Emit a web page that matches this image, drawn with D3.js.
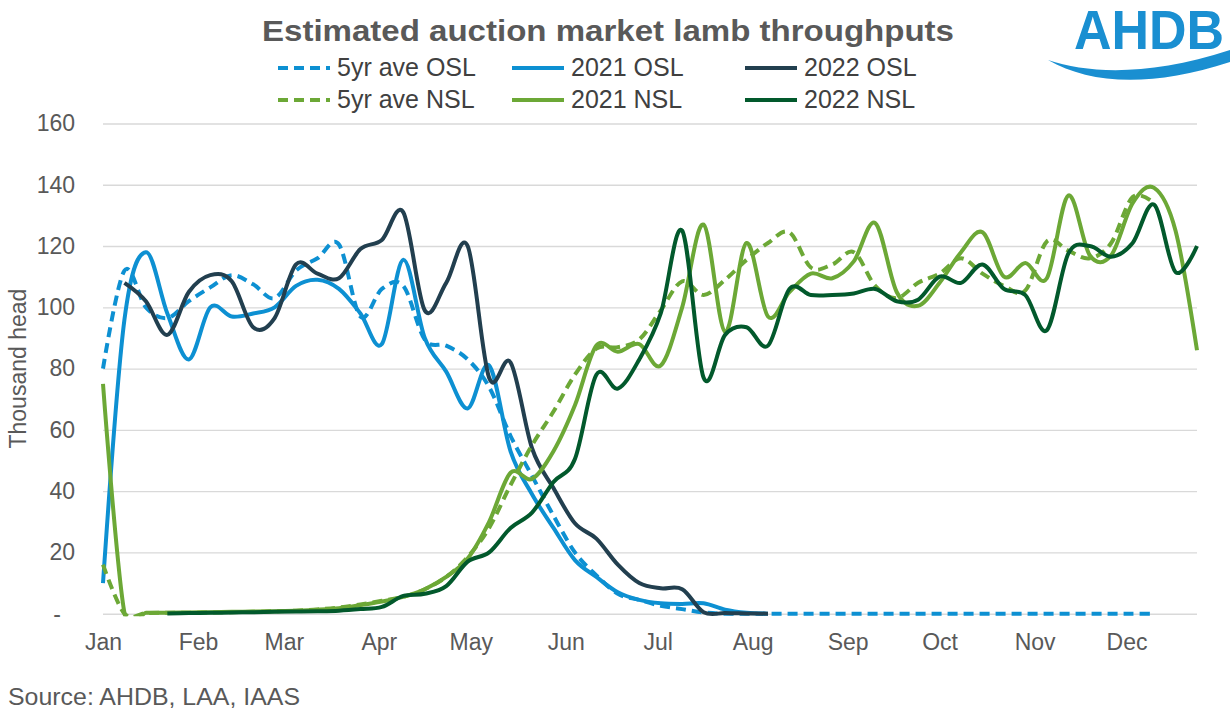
<!DOCTYPE html>
<html>
<head>
  <meta charset="utf-8">
  <script src="https://d3js.org/d3.v7.min.js"></script>
  <style>
    body { margin: 0; background: #fff; }
    svg text { font-family: Arial, "Liberation Sans", sans-serif; }
  </style>
</head>
<body>
<script>
  // weekly throughputs, thousand head (week 1 starts 1 Jan), null = no data
  var osl5yr = [80, 112, 100, 96.5, 102, 106.5, 110.5, 107.5, 103, 112, 116, 120.5, 97, 106, 107, 89.5, 87.5, 83, 74, 58,
    45, 32, 20, 12.5, 6.5, 4.5, 2.6, 1.5, 0.4, 0, 0, 0, 0, 0, 0, 0, 0, 0, 0, 0,
    0, 0, 0, 0, 0, 0, 0, 0, 0, 0, null, null];
  var osl2021 = [10, 96, 118, 98, 83, 100, 97, 98, 100, 107, 109, 106, 98, 88, 115.5, 90, 79, 67, 81, 53,
    39, 28, 17.5, 12, 7, 4.5, 3.4, 3.2, 3.4, 1.3, 0.3, 0, null, null, null, null, null, null, null, null,
    null, null, null, null, null, null, null, null, null, null, null, null];
  var osl2022 = [null, 108, 102, 91, 105, 110.5, 108.5, 93.5, 96.5, 114, 111, 109.5, 119, 122, 131, 99, 108, 120, 77, 82,
    54, 41, 29.5, 24.5, 16, 10, 8.3, 8, 0.5, 0.2, 0.1, 0, null, null, null, null, null, null, null, null,
    null, null, null, null, null, null, null, null, null, null, null, null];
  var nsl5yr = [16, 0, 0.2, 0.3, 0.3, 0.4, 0.5, 0.6, 0.8, 1, 1.4, 2, 3, 4.2, 5.5, 8, 12, 18.5, 28, 42,
    55, 66, 78, 86.5, 87, 89.5, 99, 108.5, 104, 109, 115.5, 121, 124.5, 113, 114, 118, 107, 103, 108, 111,
    116, 111, 107, 105.5, 121.5, 118.5, 116, 121, 136, 134, null, null];
  var nsl2021 = [75, 0.3, 0.3, 0.3, 0.4, 0.5, 0.6, 0.7, 0.8, 1, 1.3, 1.8, 2.8, 4, 5.5, 8, 12, 18, 30, 46,
    44, 53, 68, 87.5, 85.5, 88, 81, 100, 127, 92, 121, 97, 105, 111, 109.5, 115, 127.5, 105, 100.5, 108,
    118, 124.5, 110, 114.5, 109.5, 136.5, 117, 117, 134, 139, 125, 86];
  var nsl2022 = [null, null, null, 0.1, 0.2, 0.3, 0.4, 0.5, 0.6, 0.7, 0.8, 1, 1.5, 2.2, 5.8, 6.5, 9, 17, 20, 28,
    33, 43, 50.5, 78, 73.5, 83, 98, 125, 77, 91, 93.5, 87.5, 106, 104, 104, 104.5, 106, 102, 102.5, 110,
    108, 114, 106, 104, 92.5, 117.5, 120, 116.5, 121, 133.5, 111.5, 120];

  var seriesNames = ["5yr ave OSL", "2021 OSL", "2022 OSL", "5yr ave NSL", "2021 NSL", "2022 NSL"];
  var monthLabels = ["Jan", "Feb", "Mar", "Apr", "May", "Jun", "Jul", "Aug", "Sep", "Oct", "Nov", "Dec"];
  var yTicks = [0, 20, 40, 60, 80, 100, 120, 140, 160];

  var blue = "#0D90D2", slate = "#223F4F", lgreen = "#6CA836", dgreen = "#02592C";
  var series = [
    { name: seriesNames[0], values: osl5yr, color: blue, dash: true },
    { name: seriesNames[1], values: osl2021, color: blue },
    { name: seriesNames[2], values: osl2022, color: slate },
    { name: seriesNames[3], values: nsl5yr, color: lgreen, dash: true },
    { name: seriesNames[4], values: nsl2021, color: lgreen },
    { name: seriesNames[5], values: nsl2022, color: dgreen }
  ];

  var W = 1232, H = 718;
  var plotL = 103, plotR = 1197, plotT = 123.5, plotB = 613.7;

  var start = new Date(2021, 0, 1);
  var weeks = osl5yr.map(function(d, i) { return d3.timeDay.offset(start, 7 * i); });
  var monthTicks = d3.timeMonth.range(start, new Date(2022, 0, 1));

  var x = d3.scaleTime().domain([weeks[0], weeks[weeks.length - 1]]).range([plotL, plotR]);
  var y = d3.scaleLinear().domain([0, 160]).range([plotB, plotT]);

  var svg = d3.select("body").append("svg")
      .attr("width", W).attr("height", H);

  svg.append("defs").append("clipPath").attr("id", "plot")
    .append("rect").attr("x", plotL - 3).attr("y", plotT - 4)
      .attr("width", plotR - plotL + 6).attr("height", plotB - plotT + 6.5);

  // y axis with gridlines
  var yAxis = svg.append("g")
      .attr("transform", "translate(" + plotL + ",0)")
      .call(d3.axisLeft(y).tickValues(yTicks).tickSize(-(plotR - plotL)).tickPadding(28)
        .tickFormat(function(d) { return d === 0 ? "-" : d; }));
  yAxis.select(".domain").remove();
  yAxis.selectAll("line").attr("stroke", "#D9D9D9").attr("stroke-width", 1.4);
  yAxis.selectAll("text").attr("fill", "#595959").style("font-size", "23px");
  yAxis.selectAll(".tick").filter(function(d) { return d === 0; }).select("text").attr("x", -42);

  // x axis month labels
  var xAxis = svg.append("g")
      .attr("transform", "translate(0," + plotB + ")")
      .call(d3.axisBottom(x).tickValues(monthTicks).tickSize(0).tickPadding(20)
        .tickFormat(function(d, i) { return monthLabels[i]; }));
  xAxis.select(".domain").remove();
  xAxis.selectAll("text").attr("fill", "#595959").style("font-size", "23px");

  svg.append("text")
      .attr("transform", "translate(26," + (plotT + plotB) / 2 + ") rotate(-90)")
      .attr("text-anchor", "middle")
      .attr("fill", "#595959")
      .style("font-size", "23px")
      .text("Thousand head");

  var line = d3.line()
      .defined(function(d) { return d.v != null; })
      .x(function(d) { return x(d.t); })
      .y(function(d) { return y(d.v); })
      .curve(d3.curveCardinal.tension(0));

  var plot = svg.append("g").attr("clip-path", "url(#plot)");
  series.forEach(function(s) {
    var pts = s.values.map(function(v, i) { return { t: weeks[i], v: v }; });
    plot.append("path")
        .datum(pts)
        .attr("d", line)
        .attr("fill", "none")
        .attr("stroke", s.color)
        .attr("stroke-width", 4)
        .attr("stroke-dasharray", s.dash ? "10,6" : null)
        .attr("stroke-linejoin", "round");
  });

  // title
  svg.append("text")
      .attr("x", 608).attr("y", 41)
      .attr("text-anchor", "middle")
      .attr("fill", "#595959")
      .style("font-size", "30px").style("font-weight", "bold")
      .attr("textLength", 692).attr("lengthAdjust", "spacingAndGlyphs")
      .text("Estimated auction market lamb throughputs");

  // legend, 3 columns x 2 rows
  var legX = [278, 512, 745], legY = [68, 100];
  series.forEach(function(s, i) {
    var lx = legX[i % 3], ly = legY[Math.floor(i / 3)];
    svg.append("line")
        .attr("x1", lx).attr("x2", lx + 52).attr("y1", ly).attr("y2", ly)
        .attr("stroke", s.color).attr("stroke-width", 4)
        .attr("stroke-dasharray", s.dash ? "10,6" : null);
    svg.append("text")
        .attr("x", lx + 59).attr("y", ly + 8)
        .attr("fill", "#404040")
        .style("font-size", "25px")
        .text(s.name);
  });

  svg.append("text")
      .attr("x", 8).attr("y", 705)
      .attr("fill", "#595959")
      .style("font-size", "24px")
      .attr("textLength", 292).attr("lengthAdjust", "spacingAndGlyphs")
      .text("Source: AHDB, LAA, IAAS");

  // AHDB logo
  var logo = svg.append("g");
  logo.append("text")
      .attr("x", 1074).attr("y", 49)
      .attr("fill", "#1A8FD1")
      .style("font-size", "56px").style("font-weight", "bold")
      .attr("textLength", 150).attr("lengthAdjust", "spacingAndGlyphs")
      .text("AHDB");
  logo.append("path")
      .attr("d", "M1048,60 C1090,74 1150,76 1230,50 L1230,62 C1150,88 1090,84 1048,60 Z")
      .attr("fill", "#1A8FD1");
</script>
</body>
</html>
